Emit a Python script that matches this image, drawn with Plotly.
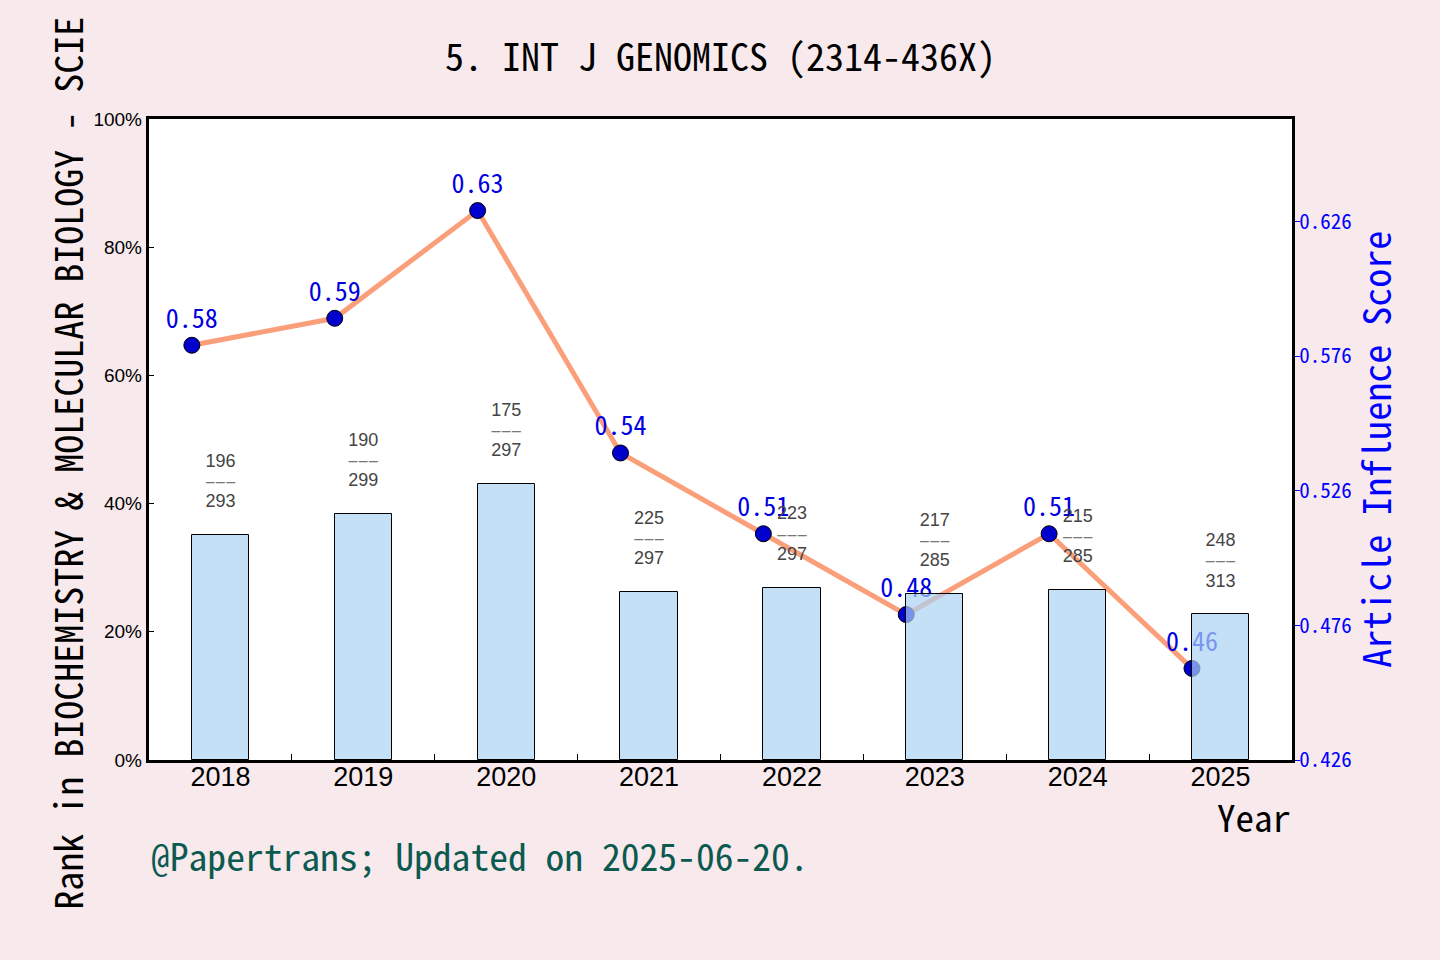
import plotly.graph_objects as go

years = ["2018", "2019", "2020", "2021", "2022", "2023", "2024", "2025"]
rank = [196, 190, 175, 225, 223, 217, 215, 248]
total = [293, 299, 297, 297, 297, 285, 285, 313]
bar_pct = [35.1, 38.4, 43.0, 26.2, 26.9, 25.9, 26.5, 22.7]
ais = [0.58, 0.59, 0.63, 0.54, 0.51, 0.48, 0.51, 0.46]
left_ticks = [0, 20, 40, 60, 80, 100]
right_ticks = [0.426, 0.476, 0.526, 0.576, 0.626]

MONO = "Noto Sans Mono CJK SC, DejaVu Sans Mono, monospace"
SANS = "Liberation Sans, Arial, sans-serif"
BG = "#f8e9ec"

L, R, T, B = 149, 1292, 119, 760.5
W, H = 1440, 960


def px(x):
    return (x - L) / (R - L)


def py(y):
    return (B - y) / (B - T)


xi = list(range(len(years)))
line_x = [i - 0.2 for i in xi]

fig = go.Figure()

fig.add_trace(go.Scatter(
    x=line_x, y=ais, yaxis="y", xaxis="x",
    mode="lines+markers+text",
    line=dict(color="#fa9f7a", width=5),
    marker=dict(size=16, color="#0000cd", line=dict(color="black", width=1)),
    text=[f"{v:.2f}" for v in ais],
    textposition="top center",
    textfont=dict(family=MONO, size=26, color="#0000e0"),
    showlegend=False, hoverinfo="skip",
))

fig.add_trace(go.Bar(
    x=xi, y=bar_pct, yaxis="y2", xaxis="x",
    width=0.4,
    marker=dict(color="rgba(171,211,244,0.7)", line=dict(color="black", width=1)),
    showlegend=False, hoverinfo="skip",
))


def big(s):
    return f"<span style='font-size:18px'>{s}</span>"


dash = ("<span style='font-size:16px;fill:#777777'>"
        "\u2013\u200a\u2013\u200a\u2013</span>")
fig.add_trace(go.Scatter(
    x=xi, y=[v + 8.1 for v in bar_pct], yaxis="y2", xaxis="x",
    mode="text",
    text=[f"{big(r)}<br>{dash}<br>{big(t)}" for r, t in zip(rank, total)],
    textposition="middle center",
    textfont=dict(family=SANS, size=15.5, color="#444444"),
    showlegend=False, hoverinfo="skip",
))

fig.update_layout(
    width=W, height=H,
    paper_bgcolor=BG, plot_bgcolor="white",
    margin=dict(l=L, r=W - R, t=T, b=H - B, pad=0),
    bargap=0,
    xaxis=dict(
        range=[-0.5, 7.5], tickvals=xi, ticktext=years,
        ticks="", ticklen=0, showgrid=False, zeroline=False,
        showline=True, linecolor="black", linewidth=3, mirror=True,
        tickfont=dict(family=SANS, size=27, color="black"),
        ticklabelstandoff=-9,
        minor=dict(tickvals=[i + 0.5 for i in xi[:-1]], ticks="inside",
                   ticklen=6, tickwidth=1, tickcolor="black", showgrid=False),
        anchor="y",
    ),
    yaxis=dict(
        side="right", range=[0.426, 0.664], tickvals=right_ticks,
        ticktext=[f"{v:.3f}" for v in right_ticks],
        ticks="outside", ticklen=5, tickcolor="blue", tickwidth=1,
        tickfont=dict(family=MONO, size=21, color="blue"),
        ticklabelstandoff=-5,
        showgrid=False, zeroline=False,
        showline=True, linecolor="black", linewidth=3, mirror=True,
    ),
    yaxis2=dict(
        overlaying="y", side="left", range=[0, 100],
        tickvals=left_ticks, ticktext=[f"{v}%" for v in left_ticks],
        ticks="inside", ticklen=5, tickcolor="black", tickwidth=1,
        tickfont=dict(family=SANS, size=19, color="black"),
        ticklabelstandoff=6,
        showgrid=False, zeroline=False, showline=False,
    ),
)

ann = [
    dict(text="5. INT J GENOMICS (2314-436X)", x=px(720), y=py(54),
         font=dict(family=MONO, size=38, color="black"), textangle=0),
    dict(text="Rank in BIOCHEMISTRY & MOLECULAR BIOLOGY - SCIE", x=px(67), y=py(464),
         font=dict(family=MONO, size=38, color="black"), textangle=-90),
    dict(text="Article Influence Score", x=px(1375), y=py(450),
         font=dict(family=MONO, size=38, color="blue"), textangle=-90),
    dict(text="Year", x=px(1254), y=py(817),
         font=dict(family=MONO, size=37, color="black"), textangle=0),
]
for a in ann:
    fig.add_annotation(xref="paper", yref="paper", showarrow=False,
                       xanchor="center", yanchor="middle", **a)

fig.add_annotation(text="@Papertrans; Updated on 2025-06-20.", xref="paper", yref="paper",
                   x=px(149), y=py(855), xanchor="left", yanchor="middle", showarrow=False,
                   font=dict(family=MONO, size=37.6, color="#0b5a50"))

fig.write_html("out.html")
